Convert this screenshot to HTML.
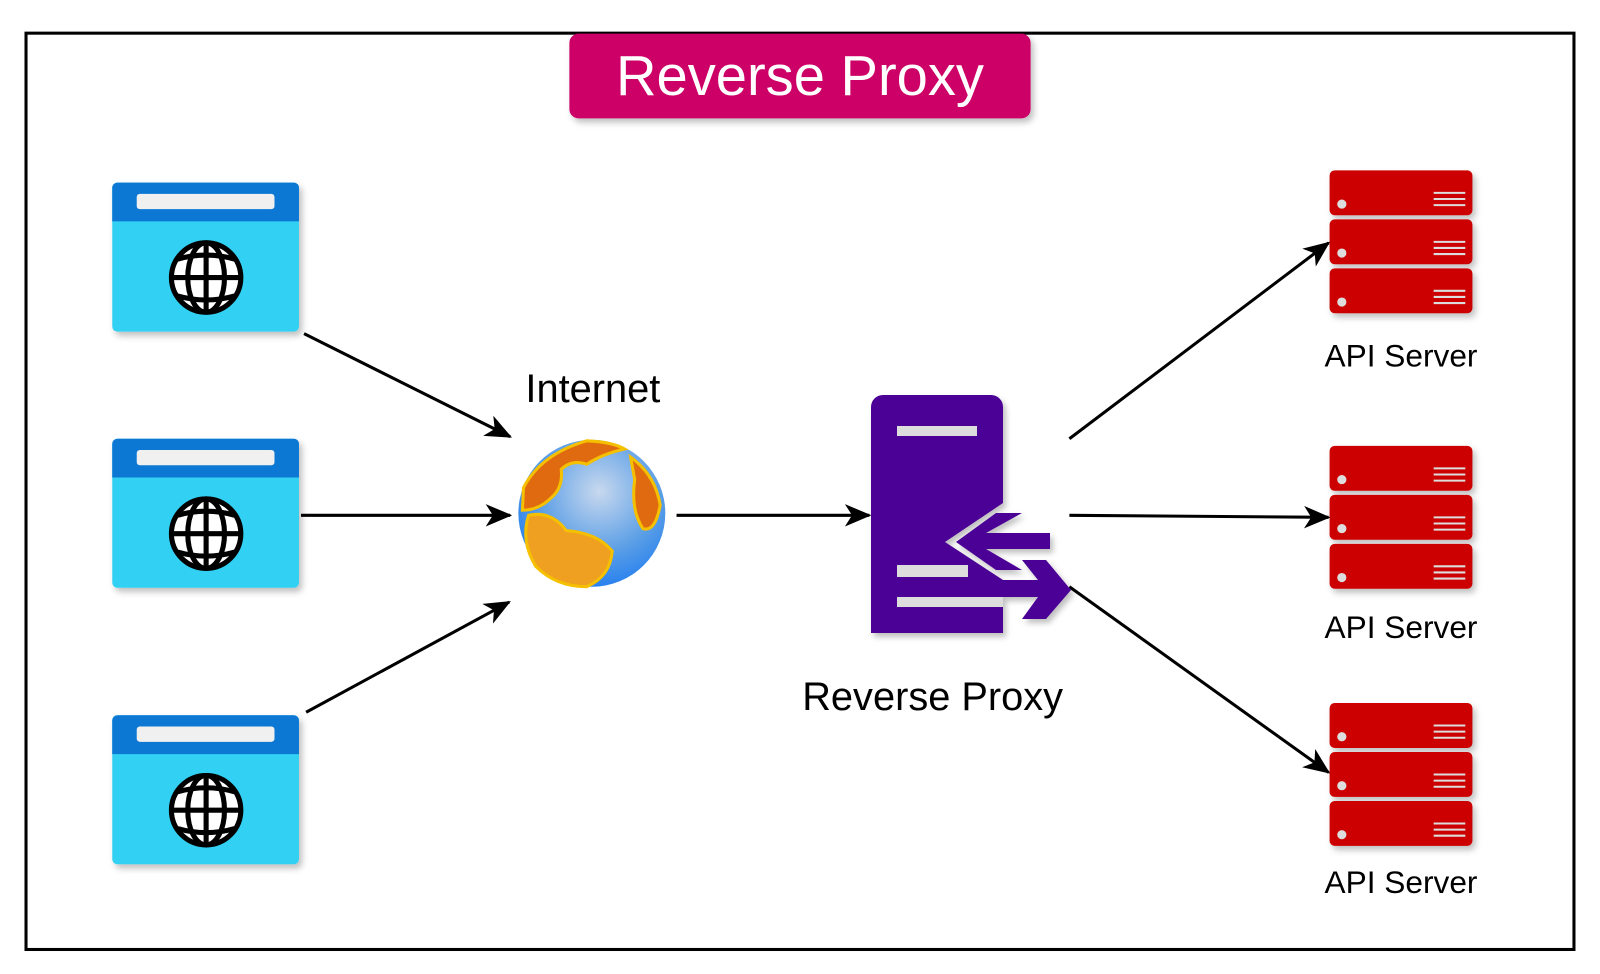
<!DOCTYPE html>
<html><head><meta charset="utf-8"><style>
html,body{margin:0;padding:0;background:#fff;}
svg{display:block;font-family:"Liberation Sans",Arial,sans-serif;}
</style></head><body>
<svg width="1600" height="974" viewBox="0 0 1600 974" xmlns="http://www.w3.org/2000/svg">
<defs>
<marker id="ah" markerWidth="26" markerHeight="22" refX="24" refY="11" orient="auto" markerUnits="userSpaceOnUse" viewBox="0 0 26 22">
<path d="M0,0 L26,11 L0,22 L7,11 Z" fill="#000"/></marker>
<filter id="sh" x="-20%" y="-20%" width="150%" height="150%"><feDropShadow dx="3" dy="4" stdDeviation="3" flood-color="#000" flood-opacity="0.25"/></filter>
<radialGradient id="gl" cx="0.55" cy="0.35" r="0.7"><stop offset="0" stop-color="#c8d8ee"/><stop offset="0.6" stop-color="#5a9ee6"/><stop offset="1" stop-color="#1e7bf0"/></radialGradient>
<g id="browser">
<rect x="0" y="0" width="183" height="146" rx="5" fill="#30d0f2"/>
<path d="M5,0 H178 A5,5 0 0 1 183,5 V38 H0 V5 A5,5 0 0 1 5,0 Z" fill="#0a78d4"/>
<rect x="24" y="11" width="135" height="15" rx="3" fill="#f0f0f0"/>
<g transform="translate(92,93)" fill="none" stroke="#000" stroke-width="5">
<circle r="34" fill="#fff"/>
<ellipse rx="18" ry="34"/>
<line x1="0" y1="-34" x2="0" y2="34"/>
<line x1="-34" y1="0" x2="34" y2="0"/>
<path d="M-28,-18 Q0,-26 28,-18 M-28,18 Q0,26 28,18"/>
</g>
</g>
<g id="srv">
<rect x="0" y="0" width="140" height="44" rx="5" fill="#cc0000"/>
<circle cx="12" cy="33" r="4.5" fill="#ddd"/>
<g stroke="#ddd" stroke-width="2"><line x1="102" y1="22" x2="133" y2="22"/><line x1="102" y1="28" x2="133" y2="28"/><line x1="102" y1="34" x2="133" y2="34"/></g>
</g>
<g id="stack" filter="url(#sh)">
<use href="#srv" y="0"/><use href="#srv" y="48"/><use href="#srv" y="96"/>
</g>
</defs>
<g transform="scale(1.0204)">
<rect x="25.5" y="32.5" width="1517" height="898" fill="#fff" stroke="#000" stroke-width="3"/>
<rect x="558" y="33" width="452" height="83" rx="9" fill="#cc0066" filter="url(#sh)"/>
<text x="784" y="93" font-size="55" fill="#fff" text-anchor="middle">Reverse Proxy</text>

<use href="#browser" x="110" y="179" filter="url(#sh)"/>
<use href="#browser" x="110" y="430" filter="url(#sh)"/>
<use href="#browser" x="110" y="701" filter="url(#sh)"/>

<text x="581" y="394" font-size="39" text-anchor="middle">Internet</text>
<g>
<circle cx="580" cy="503" r="72" fill="url(#gl)"/>
<path d="M513,478 Q530,445 575,432 Q600,433 612,440 Q590,445 575,455 Q560,450 550,460 Q552,478 540,488 Q528,500 512,500 Z" fill="#e06a10" stroke="#f5c000" stroke-width="3"/>
<path d="M518,505 Q540,500 555,520 Q585,522 600,540 Q598,565 575,575 Q545,575 525,555 Q510,530 518,505 Z" fill="#f0a020" stroke="#f5c000" stroke-width="3"/>
<path d="M618,448 Q642,465 647,495 Q642,522 630,518 Q618,500 622,470 Z" fill="#e06a10" stroke="#f5c000" stroke-width="3"/>
</g>

<text x="914" y="696" font-size="39" text-anchor="middle">Reverse Proxy</text>

<use href="#stack" x="1303" y="167"/>
<use href="#stack" x="1303" y="437"/>
<use href="#stack" x="1303" y="689"/>
<text x="1373" y="359" font-size="31" text-anchor="middle">API Server</text>
<text x="1373" y="625" font-size="31" text-anchor="middle">API Server</text>
<text x="1373" y="875" font-size="31" text-anchor="middle">API Server</text>

<g stroke="#000" stroke-width="3" marker-end="url(#ah)">
<line x1="298" y1="327" x2="500" y2="428"/>
<line x1="295" y1="505" x2="500" y2="505"/>
<line x1="300" y1="698" x2="499" y2="590"/>
<line x1="663" y1="505" x2="852" y2="505"/>
<line x1="1048" y1="430" x2="1302" y2="238"/>
<line x1="1048" y1="505" x2="1302" y2="507"/>
<line x1="1048" y1="575" x2="1302" y2="757"/>
</g>
</g>

<g filter="url(#sh)" fill="#4b0096">
<path d="M883,395 H991 A12,12 0 0 1 1003,407 V503 L945,542 L1003,580 V633 H871 V407 A12,12 0 0 1 883,395 Z"/>
<rect x="897" y="426" width="80" height="10" fill="#ddd"/>
<rect x="897" y="565" width="71" height="12" fill="#ddd"/>
<rect x="897" y="597" width="106" height="10" fill="#ddd"/>
<path d="M996,513 H1022 L986,533 H1050 V549 H986 L1022,570 H996 L956,542 Z"/>
<path d="M981,580 H1038 L1022,560 H1046 L1071,590 L1046,619 H1022 L1038,597 H981 Z"/>
</g>
</svg>
</body></html>
